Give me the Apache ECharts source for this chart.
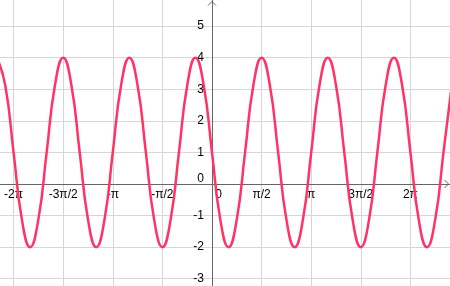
<!DOCTYPE html>
<html><head><meta charset="utf-8">
<script src="https://cdn.jsdelivr.net/npm/echarts@6/dist/echarts.min.js"></script>
<style>html,body{margin:0;padding:0;background:#fff}#c{width:450px;height:286px}</style>
</head><body><div id="c"></div>
<script>
const xValues = [-6.807,-6.545,-6.283,-6.021,-5.760,-5.498,-5.236,-4.974,
  -4.712,-4.451,-4.189,-3.927,-3.665,-3.403,-3.142,-2.880,
  -2.618,-2.356,-2.094,-1.833,-1.571,-1.309,-1.047,-0.785,
  -0.524,-0.262,0.000,0.262,0.524,0.785,1.047,1.309,
  1.571,1.833,2.094,2.356,2.618,2.880,3.142,3.403,
  3.665,3.927,4.189,4.451,4.712,4.974,5.236,5.498,
  5.760,6.021,6.283,6.545,6.807,7.069,7.330,7.592];
const yValues = [4,3.12,1,-1.12,-2,-1.12,1,3.12,
  4,3.12,1,-1.12,-2,-1.12,1,3.12,
  4,3.12,1,-1.12,-2,-1.12,1,3.12,
  4,3.12,1,-1.12,-2,-1.12,1,3.12,
  4,3.12,1,-1.12,-2,-1.12,1,3.12,
  4,3.12,1,-1.12,-2,-1.12,1,3.12,
  4,3.12,1,-1.12,-2,-1.12,1,3.12];
const xTickLabels = ['-2π','-3π/2','-π','-π/2','0','π/2','π','3π/2','2π'];
const yTickLabels = ['-3','-2','-1','0','1','2','3','4','5'];

const HALF_PI = Math.PI / 2;
const U = 31.58;           // pixels per unit (equal aspect)
const OX = 212, OY = 184;  // origin in pixels
const data = xValues.map((x, i) => [x, yValues[i]]);

const chart = echarts.init(document.getElementById('c'), null, {renderer: 'canvas'});
const font = {fontFamily: 'Liberation Sans', fontSize: 12, color: '#000'};
chart.setOption({
  animation: false,
  backgroundColor: '#fff',
  grid: {
    left: OX - 3 * Math.PI * U, width: 6 * Math.PI * U,
    top: OY - 6 * U, height: 10 * U,
    containLabel: false, outerBoundsMode: 'none'
  },
  xAxis: {
    type: 'value', min: -3 * Math.PI, max: 3 * Math.PI, interval: HALF_PI,
    position: 'bottom', offset: -4 * U,
    axisLine: {onZero: false, lineStyle: {color: '#666', width: 1}},
    axisTick: {show: false},
    splitLine: {show: true, lineStyle: {color: '#d6d6d6', width: 1}},
    axisLabel: Object.assign({}, font, {
      margin: 5, showMinLabel: true, showMaxLabel: true,
      formatter: v => {
        const k = Math.round(v / HALF_PI) + 4;
        const t = xTickLabels[k];
        if (t === undefined) return '';
        return t === '0' ? '{z|0}' : t;
      },
      rich: {z: Object.assign({}, font, {padding: [0, 0, 0, 13]})}
    })
  },
  yAxis: {
    type: 'value', min: -4, max: 6, interval: 1,
    position: 'left', offset: -3 * Math.PI * U,
    axisLine: {onZero: false, lineStyle: {color: '#666', width: 1}},
    axisTick: {show: false},
    splitLine: {show: true, lineStyle: {color: '#d6d6d6', width: 1}},
    axisLabel: Object.assign({}, font, {
      margin: 8,
      formatter: v => {
        const t = yTickLabels[Math.round(v) + 3];
        if (t === undefined) return '';
        return t === '0' ? '{z|0}' : t;
      },
      rich: {z: Object.assign({}, font, {padding: [0, 0, 10, 0]})}
    })
  },
  series: [{
    type: 'line', data: data, smooth: true, showSymbol: false,
    lineStyle: {color: '#ff3366', width: 2.5}, z: 5
  }]
});

// axis arrows (open chevrons) at canvas edges
const o = chart.convertToPixel({gridIndex: 0}, [0, 0]);
const W = chart.getWidth();
chart.setOption({
  graphic: [
    {type: 'polyline', z: 10, shape: {points: [[W - 5.5, o[1] - 4], [W - 1.5, o[1]], [W - 5.5, o[1] + 4]]},
     style: {stroke: '#666', lineWidth: 1, fill: null}},
    {type: 'polyline', z: 10, shape: {points: [[o[0] - 4, 5.5], [o[0], 1.5], [o[0] + 4, 5.5]]},
     style: {stroke: '#666', lineWidth: 1, fill: null}}
  ]
});
</script>
</body></html>
